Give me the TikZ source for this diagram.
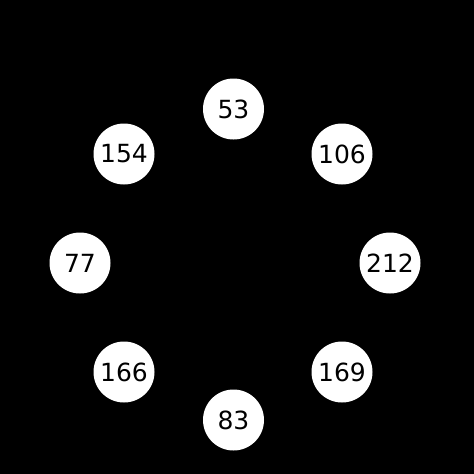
\documentclass[tikz,border=0pt]{standalone}
\usepackage{fontspec}
\setmainfont{DejaVu Sans}
\begin{document}
\begin{tikzpicture}[x=1pt,y=-1pt,
  numnode/.style={circle,fill=white,draw=none,minimum size=61pt,inner sep=0pt,
    font=\fontsize{25}{30}\selectfont,text=black}]
\fill[black] (0,0) rectangle (474,474);
\useasboundingbox (0,0) rectangle (474,474);
\node[numnode] (n53) at (233.5,109) {53};
\node[numnode] (n106) at (342,154) {106};
\node[numnode] (n212) at (390,263) {212};
\node[numnode] (n169) at (342,372) {169};
\node[numnode] (n83) at (233.5,420) {83};
\node[numnode] (n166) at (124,372) {166};
\node[numnode] (n77) at (80,263) {77};
\node[numnode] (n154) at (124,154) {154};
\end{tikzpicture}
\end{document}
